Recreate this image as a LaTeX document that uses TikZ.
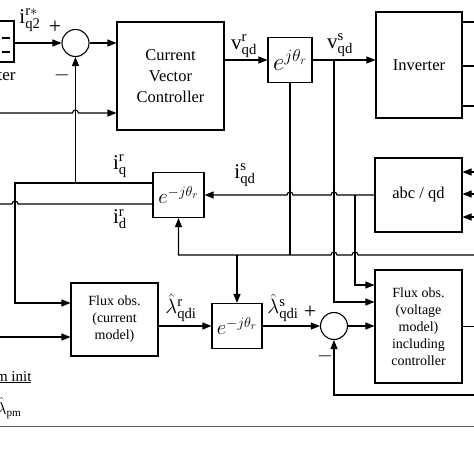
\documentclass[tikz,border=0pt]{standalone}
\usepackage{fontspec}
\setmainfont{Liberation Serif}
\usetikzlibrary{arrows.meta,calc}
\begin{document}
\begin{tikzpicture}[x=1pt,y=-1pt,line width=1.1pt,
  blk/.style={draw, rectangle, inner sep=0pt, align=center},
  sumnode/.style={draw, circle, minimum size=27pt, inner sep=0pt},
  arr/.style={-{Triangle[length=9pt,width=7pt]}},
  lbl/.style={inner sep=0pt, font=\fontsize{21}{22}\selectfont},
  big/.style={font=\fontsize{16.5}{21}\selectfont},
  mid/.style={font=\fontsize{14}{17}\selectfont},
  expo/.style={font=\fontsize{24}{24}\selectfont},
  expm/.style={font=\fontsize{22}{22}\selectfont},
  sgn/.style={font=\fontsize{22}{22}\selectfont, inner sep=0pt}]
\useasboundingbox (0,0) rectangle (474,474);
\clip (0,0) rectangle (474,474);
% blocks
\node[blk, minimum width=44pt, minimum height=41pt] (lim) at (-8,41.5) {};
\node[sumnode] (s1) at (75.5,43) {};
\node[blk, big, minimum width=107pt, minimum height=108pt] (cvc) at (170.5,76) {Current\\Vector\\Controller};
\node[blk, expo, minimum width=44pt, minimum height=45pt] (ejt) at (290,60) {$e^{j\theta_r}$};
\node[blk, big, minimum width=86pt, minimum height=106pt] (inv) at (419,65) {Inverter};
\node[blk, big, minimum width=87pt, minimum height=74pt] (abc) at (418.5,195) {abc / qd};
\node[blk, expm, minimum width=51pt, minimum height=45pt] (em1) at (178.5,195) {$e^{-j\theta_r}$};
\node[blk, mid, minimum width=87pt, minimum height=73pt] (fcm) at (114.5,319.5) {Flux obs.\\(current\\model)};
\node[blk, expm, minimum width=50pt, minimum height=45pt] (em2) at (237,326) {$e^{-j\theta_r}$};
\node[sumnode] (s2) at (334,326) {};
\node[blk, mid, minimum width=87pt, minimum height=113pt] (fvm) at (418.5,326.5) {Flux obs.\\(voltage\\model)\\including\\controller};
% limiter marks
\draw (2,38) -- (10,38);
\draw (2,52) -- (10,52);
% helper coordinates
\coordinate (inL) at (0,113);
\coordinate (yq) at (0,183);
\coordinate (yd) at (0,204);
\coordinate (ql) at (15,183);
\coordinate (yf1) at (0,303);
\coordinate (yf2) at (0,337);
\coordinate (yv1) at (0,285);
\coordinate (yv2) at (0,302);
\coordinate (th) at (474,255);
\coordinate (fb) at (474,395);
\coordinate (j355) at (355,195);
\coordinate (j334) at (334,60);
% top row
\draw[arr] (lim.east |- s1) -- (s1.west);
\draw[arr] (s1.east) -- (s1.east -| cvc.west);
\draw[arr] (inL) -- (72.5,113) arc[start angle=180,end angle=0,radius=3pt] -- (inL -| cvc.west);
\draw[arr] (cvc.east |- ejt) -- (ejt.west);
\draw[arr] (ejt.east) -- (ejt.east -| inv.west);
\foreach \yy in {22,66,106} \draw (inv.east |- 0,\yy) -- (474,\yy);
\foreach \yy in {172,194,217} \draw[arr] (474,\yy) -- (abc.east |- 0,\yy);
% current feedback
\draw[arr] (abc.west) -- (337,195) arc[start angle=0,end angle=180,radius=3pt]
  -- (293,195) arc[start angle=0,end angle=180,radius=3pt] -- (em1.east);
\draw[arr] (em1.west |- yq) -- (ql) -- (ql |- yf1) -- (fcm.west |- yf1);
\draw[arr] (s1 |- yq) -- (s1.south);
\draw (em1.west |- yd) -- (18,204) arc[start angle=0,end angle=180,radius=3pt] -- (yd);
\draw[arr] (yf2) -- (fcm.west |- yf2);
% theta line
\draw[arr] (th) -- (358,255) arc[start angle=0,end angle=180,radius=3pt]
  -- (337,255) arc[start angle=0,end angle=180,radius=3pt] -- (em1.south |- th) -- (em1.south);
\draw (ejt.south) -- (ejt.south |- th);
\draw[arr] (em2.north |- th) -- (em2.north);
% voltage / current to flux obs
\draw[arr] (j334) -- (j334 |- yv2) -- (fvm.west |- yv2);
\draw[arr] (j355) -- (j355 |- yv1) -- (fvm.west |- yv1);
% flux path
\draw[arr] (fcm.east |- em2) -- (em2.west);
\draw[arr] (em2.east) -- (s2.west);
\draw[arr] (s2.east) -- (s2.east -| fvm.west);
\draw (fvm.east) -- (474,326.5);
\draw[arr] (fb) -- (s2 |- fb) -- (s2.south);
% bottom rule
\draw[black!65, line width=1pt] (0,426) -- (474,426);
% labels
\node[lbl] (lq2) at (30,20) {$\mathrm{i}^{\mathrm{r}*}_{\mathrm{q2}}$};
\node[font=\fontsize{17}{19}\selectfont, inner sep=0pt, anchor=east] (llim) at (16,75) {Limiter};
\node[sgn] (p1) at (55,27) {+};
\node[sgn] (m1) at (62,75) {$-$};
\node[lbl] (lvr) at (244,46) {$\mathrm{v}^{\mathrm{r}}_{\mathrm{qd}}$};
\node[lbl] (lvs) at (340,45) {$\mathrm{v}^{\mathrm{s}}_{\mathrm{qd}}$};
\node[lbl] (liq) at (120,166) {$\mathrm{i}^{\mathrm{r}}_{\mathrm{q}}$};
\node[lbl] (lid) at (120,219) {$\mathrm{i}^{\mathrm{r}}_{\mathrm{d}}$};
\node[lbl] (lis) at (245,175) {$\mathrm{i}^{\mathrm{s}}_{\mathrm{qd}}$};
\node[lbl] (llr) at (181,308) {$\hat{\lambda}^{\mathrm{r}}_{\mathrm{qdi}}$};
\node[lbl] (lls) at (283,308) {$\hat{\lambda}^{\mathrm{s}}_{\mathrm{qdi}}$};
\node[sgn] (p2) at (310,312) {+};
\node[sgn] (m2) at (325,356) {$-$};
\node[font=\fontsize{15}{16}\selectfont, inner sep=0pt, anchor=base east] (linit) at (32,381) {\underline{m init}};
\node[font=\fontsize{16}{16}\selectfont, inner sep=0pt, anchor=base east] (lpm) at (22,414) {$\hat{\lambda}_{\mathrm{pm}}$};
\end{tikzpicture}
\end{document}
